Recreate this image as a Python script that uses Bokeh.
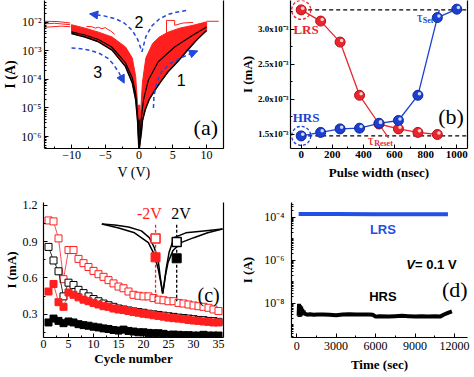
import math
from bokeh.plotting import figure
from bokeh.layouts import column, row
from bokeh.models import (FixedTicker, CustomJSTickFormatter, Label, Range1d,
                          LinearAxis, Arrow, NormalHead)
from bokeh.embed import file_html
from bokeh.resources import INLINE

SERIF = "Liberation Serif"
SANS = "Liberation Sans"
RED = "#ff1f1f"
BLUE_ARROW = "#2448d8"
RED_B = "#e8262e"
BLUE_B = "#1c3fd1"
BLUE_D = "#2150e6"

# ---------------- data: panel (a)  I-V loops (V, log10 I) ----------------
a_pos_up_V = [0.03, 0.2, 0.5, 1.0, 2.0, 3.0, 4.3, 6.0, 8.0, 10.0]
a_pos_up_logI = [-6.42, -5.3, -4.1, -3.25, -2.74, -2.51, -2.34, -2.2, -2.1, -1.98]
a_pos_lo_V = [10.0, 8.6, 7.2, 5.8, 4.3, 3.3, 2.36, 1.5, 0.91, 0.5, 0.34, 0.15, 0.03]
a_pos_lo_logI = [-2.28, -2.6, -2.97, -3.35, -3.73, -4.05, -4.37, -4.7, -5.06, -5.45, -5.86, -6.2, -6.42]
a_neg_up_V = [-10.0, -8.0, -6.0, -4.0, -2.0, -1.0, -0.5, -0.2, -0.03]
a_neg_up_logI = [-2.08, -2.2, -2.34, -2.51, -2.86, -3.25, -3.9, -4.95, -6.42]
a_neg_lo_V = [-0.03, -0.2, -0.5, -1.0, -2.0, -4.0, -6.0, -8.0, -10.0]
a_neg_lo_logI = [-6.42, -5.51, -4.71, -4.12, -3.55, -2.97, -2.68, -2.51, -2.39]
a_blk_neg2_logI = [-6.3, -5.3, -4.5, -3.95, -3.42, -2.87, -2.6, -2.44, -2.33]
a_blk_pos2_V = [0.05, 0.3, 0.66, 1.38, 2.84, 5.26, 7.94, 10.0]
a_blk_pos2_logI = [-6.42, -5.4, -4.71, -4.02, -3.38, -2.86, -2.45, -2.16]
a_spike_V = [-0.1, 0.0, 0.1]
a_spike_logI = [-4.9, -6.42, -4.9]
a_blk_spike_V = [0.0, 0.0]
a_blk_spike_logI = [-5.4, -6.42]
a_red_left_V = [[-14, -12, -10.2], [-14, -12.5, -10.2], [-14, -11.5, -10.2]]
a_red_left_logI = [[-1.96, -1.97, -2.02], [-2.05, -2.03, -2.08], [-2.17, -2.13, -2.15]]
a_red_bump_V = [-7.8, -7, -6.5, -6, -5.5, -5, -4.6, -4.2, -3.6]
a_red_bump_logI = [-2.14, -2.15, -2.2, -2.17, -2.22, -2.18, -2.25, -2.3, -2.42]
a_red_step_V = [4.06, 4.06, 5.27, 5.27, 6.5, 8.0]
a_red_step_logI = [-2.38, -1.93, -1.93, -2.1, -2.02, -2.0]
a_red_right_V = [10.0, 11.8]
a_red_right_logI = [-1.96, -1.96]
arr1_V = [2.13, 2.2, 2.6, 3.3, 4.5, 6.2, 7.6, 8.65]
arr1_logI = [-5.0, -4.6, -4.1, -3.75, -3.45, -3.24, -3.1, -3.0]
arr2_V = [6.96, 5.5, 4.3, 3.0, 1.9, 1.0, 0.43, -0.2, -1.0, -2.2, -3.4, -5.2, -7.3]
arr2_logI = [-1.58, -1.64, -1.72, -1.88, -2.12, -2.5, -3.03, -2.6, -2.28, -2.02, -1.88, -1.77, -1.7]
arr3_V = [-10.0, -8.65, -7.2, -5.84, -4.6, -3.9, -3.0, -2.2]
arr3_logI = [-2.9, -2.92, -2.98, -3.09, -3.26, -3.44, -3.75, -4.13]

# ---------------- data: panel (b) ----------------
b_pulse = [0, 125, 250, 375, 500, 625, 750, 875, 1000]
b_lrs = [3.28, 3.12, 2.82, 2.06, 1.65, 1.58, 1.53, 1.50]
b_hrs = [1.48, 1.53, 1.58, 1.59, 1.66, 1.70, 2.06, 3.17, 3.29]
b_yticks = [1.5, 2.0, 2.5, 3.0]
b_xticks = [0, 200, 400, 600, 800, 1000]

# ---------------- data: panel (c) ----------------
c_cycle = list(range(1, 36))
c_red_open = [1.074, 1.066, 0.926, 0.590, 0.830, 0.830, 0.757, 0.722, 0.690, 0.658,
              0.631, 0.609, 0.582, 0.555, 0.529, 0.515, 0.488, 0.461, 0.453, 0.448,
              0.448, 0.434, 0.421, 0.416, 0.408, 0.408, 0.394, 0.389, 0.381, 0.373,
              0.367, 0.362, 0.354, 0.340, 0.327]
c_blk_open = [0.856, 0.744, 0.655, 0.448, 0.561, 0.542, 0.502, 0.475, 0.448, 0.426,
              0.408, 0.389, 0.375, 0.362, 0.348, 0.340, 0.332, 0.324, 0.319, 0.313,
              0.305, 0.300, 0.295, 0.289, 0.284, 0.279, 0.273, 0.270, 0.265, 0.260,
              0.254, 0.252, 0.246, 0.244, 0.238]
c_red_fill = [0.488, 0.550, 0.400, 0.362, 0.480, 0.461, 0.440, 0.421, 0.408, 0.394,
              0.381, 0.367, 0.362, 0.348, 0.340, 0.335, 0.327, 0.319, 0.313, 0.305,
              0.300, 0.292, 0.287, 0.281, 0.273, 0.268, 0.265, 0.260, 0.254, 0.249,
              0.246, 0.241, 0.238, 0.233, 0.233]
c_blk_fill = [0.233, 0.265, 0.246, 0.227, 0.241, 0.233, 0.219, 0.211, 0.206, 0.198,
              0.192, 0.184, 0.179, 0.171, 0.166, 0.174, 0.163, 0.158, 0.152, 0.152,
              0.147, 0.144, 0.144, 0.139, 0.131, 0.133, 0.131, 0.128, 0.128, 0.125,
              0.125, 0.131, 0.125, 0.125, 0.125]
c_xticks = [0, 5, 10, 15, 20, 25, 30, 35]
c_yticks = [0.3, 0.6, 0.9, 1.2]
# inset schematic (drawn in panel coordinates)
ins_lo_x = [11.67, 14.24, 17.01, 19.58, 21.16, 22.15, 22.94, 23.34, 23.83]
ins_lo_y = [1.045, 1.037, 1.020, 0.988, 0.932, 0.851, 0.746, 0.609, 0.472]
ins_li_x = [11.67, 15.03, 18.20, 20.97, 22.15, 22.94, 23.54, 23.83]
ins_li_y = [1.045, 1.012, 0.972, 0.891, 0.795, 0.674, 0.545, 0.472]
ins_ro_x = [23.83, 24.13, 24.53, 25.12, 26.11, 28.48, 32.04, 35.80]
ins_ro_y = [0.472, 0.545, 0.674, 0.811, 0.932, 0.972, 0.988, 1.004]
ins_ri_x = [23.83, 24.33, 24.92, 25.91, 27.49, 30.06, 32.83, 35.80]
ins_ri_y = [0.472, 0.609, 0.730, 0.827, 0.891, 0.932, 0.972, 1.004]
ins_vx = [22.41, 26.64]          # -2V, 2V read positions
ins_vy = [[1.039, 0.407], [1.039, 0.407]]
ins_open = [0.926, 0.897]
ins_fill = [0.770, 0.762]

# ---------------- data: panel (d) ----------------
d_lrs_t = [150, 3000, 6000, 9000, 11500]
d_lrs_I = [1.42e-4, 1.40e-4, 1.38e-4, 1.38e-4, 1.37e-4]
d_hrs_t = [150, 180, 220, 260, 300, 340, 380, 420, 460, 520, 600, 700, 800, 1000, 1300,
           1600, 2000, 2500, 3000, 3500, 4000, 4500, 5000, 5500, 5800, 6000, 6300, 7000,
           7500, 8000, 8500, 9000, 9500, 10000, 10500, 10900, 11200, 11500, 11800]
d_hrs_I = [2.6e-9, 9.5e-9, 2.3e-9, 8.0e-9, 2.5e-9, 7.0e-9, 2.8e-9, 5.5e-9, 3.0e-9, 4.5e-9,
           3.0e-9, 3.3e-9, 2.9e-9, 3.1e-9, 2.9e-9, 3.0e-9, 3.0e-9, 2.9e-9, 2.8e-9, 3.0e-9,
           3.1e-9, 3.0e-9, 3.0e-9, 3.0e-9, 2.9e-9, 2.4e-9, 2.5e-9, 2.4e-9, 2.5e-9, 2.6e-9,
           2.5e-9, 2.4e-9, 2.5e-9, 2.4e-9, 2.5e-9, 2.4e-9, 3.0e-9, 3.6e-9, 4.2e-9]
d_xticks = [0, 3000, 6000, 9000, 12000]


def L(v):
    return [10 ** x for x in v]


SUP_CODE = """
const e = Math.round(Math.log10(tick));
const m = {'-':'\u207b','0':'\u2070','1':'\u00b9','2':'\u00b2','3':'\u00b3','4':'\u2074',
           '5':'\u2075','6':'\u2076','7':'\u2077','8':'\u2078','9':'\u2079'};
return '10' + String(e).split('').map(c => m[c]).join('');
"""


def style(p, size, bold=False, xstand=3, ystand=3):
    for ax in p.axis:
        ax.major_tick_in = 4
        ax.major_tick_out = 0
        ax.minor_tick_in = 2
        ax.minor_tick_out = 0
        ax.major_label_text_font = SERIF
        ax.major_label_text_font_size = size
        ax.major_label_text_font_style = "bold" if bold else "normal"
        ax.major_label_text_color = "black"
        ax.axis_line_color = "black"
        ax.axis_line_width = 1.2
        ax.major_tick_line_color = "black"
        ax.minor_tick_line_color = "black"
        ax.axis_label_text_font = SERIF
        ax.axis_label_text_color = "black"
    p.xaxis.major_label_standoff = xstand
    p.yaxis.major_label_standoff = ystand
    p.xgrid.grid_line_color = None
    p.ygrid.grid_line_color = None
    p.background_fill_color = "white"
    p.border_fill_color = "white"


def axis_labels(p, xlab, ylab, size, xstyle, ystyle, xs, ys):
    p.xaxis.axis_label = xlab
    p.yaxis.axis_label = ylab
    p.xaxis.axis_label_text_font_size = size
    p.yaxis.axis_label_text_font_size = size
    p.xaxis.axis_label_text_font_style = xstyle
    p.yaxis.axis_label_text_font_style = ystyle
    p.xaxis.axis_label_standoff = xs
    p.yaxis.axis_label_standoff = ys


def right_border(p):
    p.add_layout(LinearAxis(ticker=FixedTicker(ticks=[]), axis_line_color="black",
                            axis_line_width=1.2, major_label_text_font_size="0px"), "right")


class Geo:
    def __init__(self, left, right, top, bottom, xr, yr, ylog=False):
        self.l, self.r, self.t, self.b = left, right, top, bottom
        self.xr, self.yr, self.ylog = xr, yr, ylog

    def x(self, px):
        return self.xr[0] + (px - self.l) * (self.xr[1] - self.xr[0]) / (self.r - self.l)

    def y(self, py):
        lo, hi = self.yr
        if self.ylog:
            lo, hi = math.log10(lo), math.log10(hi)
        v = lo + (self.b - py) * (hi - lo) / (self.b - self.t)
        return 10 ** v if self.ylog else v


def lab(p, g, px, py, text, size, color="black", font=SERIF, style_="normal", align="center"):
    p.add_layout(Label(x=g.x(px), y=g.y(py), text=text, text_font=font,
                       text_font_size=size, text_font_style=style_, text_color=color,
                       text_align=align, text_baseline="middle"))


# ======================= panel (a) =======================
ga = Geo(41, 223, 0, 149, (-14, 12.5), (10 ** -6.42, 10 ** -1.231), True)
pa = figure(width=237, height=188, x_range=Range1d(*ga.xr), y_range=Range1d(*ga.yr),
            y_axis_type="log", output_backend="svg", toolbar_location=None,
            min_border_left=41, min_border_right=14, min_border_top=0, min_border_bottom=39)
pa.outline_line_color = None
pa.xaxis.ticker = FixedTicker(ticks=[-10, -5, 0, 5, 10], minor_ticks=[-12.5, -7.5, -2.5, 2.5, 7.5, 12.5])
pa.yaxis.ticker = FixedTicker(ticks=[1e-6, 1e-5, 1e-4, 1e-3, 1e-2],
                              minor_ticks=[k * 10 ** e for e in range(-7, -1) for k in range(2, 10)])
pa.yaxis.formatter = CustomJSTickFormatter(code=SUP_CODE)
style(pa, "12px", xstand=2, ystand=3)
axis_labels(pa, "V (V)", "I (A)", "14px", "normal", "bold", 3, 0)
right_border(pa)

pa.patch(a_pos_up_V + a_pos_lo_V, L(a_pos_up_logI + a_pos_lo_logI), fill_color=RED, line_color=RED, line_width=1)
pa.patch(a_neg_up_V + a_neg_lo_V, L(a_neg_up_logI + a_neg_lo_logI), fill_color=RED, line_color=RED, line_width=1)
pa.patch(a_spike_V, L(a_spike_logI), fill_color=RED, line_color=RED)
for xs, ys in zip(a_red_left_V, a_red_left_logI):
    pa.line(xs, L(ys), line_color=RED, line_width=1)
pa.line(a_red_bump_V, L(a_red_bump_logI), line_color=RED, line_width=1)
pa.line(a_red_step_V, L(a_red_step_logI), line_color=RED, line_width=1)
pa.line(a_red_right_V, L(a_red_right_logI), line_color=RED, line_width=1)
pa.line(a_neg_lo_V, L(a_neg_lo_logI), line_color="black", line_width=1.5)
pa.line(a_neg_lo_V, L(a_blk_neg2_logI), line_color="black", line_width=1.2)
pa.line(a_pos_lo_V, L(a_pos_lo_logI), line_color="black", line_width=1.5)
pa.line(a_blk_pos2_V, L(a_blk_pos2_logI), line_color="black", line_width=1.2)
pa.line(a_blk_spike_V, L(a_blk_spike_logI), line_color="black", line_width=1.5)

for xs, ys in [(arr1_V, arr1_logI), (arr2_V, arr2_logI), (arr3_V, arr3_logI)]:
    pa.line(xs, L(ys), line_color=BLUE_ARROW, line_width=1.5, line_dash="4 3")
    pa.add_layout(Arrow(end=NormalHead(size=8, fill_color=BLUE_ARROW, line_color=BLUE_ARROW),
                        x_start=xs[-2], y_start=10 ** ys[-2], x_end=xs[-1], y_end=10 ** ys[-1],
                        line_alpha=0))

lab(pa, ga, 180, 80, "1", "16px", font=SANS)
lab(pa, ga, 137, 22, "2", "16px", font=SANS)
lab(pa, ga, 95, 72, "3", "16px", font=SANS)
lab(pa, ga, 205, 128, "(a)", "22px")

# ======================= panel (b) =======================
gb = Geo(285, 467, 0, 148, (-68.75, 1068.75), (1.30, 3.414))
pb = figure(width=237, height=188, x_range=Range1d(*gb.xr), y_range=Range1d(*gb.yr),
            output_backend="svg", toolbar_location=None,
            min_border_left=48, min_border_right=7, min_border_top=0, min_border_bottom=40)
pb.outline_line_color = None
pb.xaxis.ticker = FixedTicker(ticks=b_xticks, minor_ticks=[100, 300, 500, 700, 900])
pb.yaxis.ticker = FixedTicker(ticks=b_yticks, minor_ticks=[1.75, 2.25, 2.75, 3.25])
pb.yaxis.formatter = CustomJSTickFormatter(code="return tick.toFixed(1) + 'x10\u207b\u00b3';")
style(pb, "11px", bold=True, xstand=2, ystand=2)
pb.yaxis.major_label_text_font_size = "9px"
axis_labels(pb, "Pulse width (nsec)", "I (mA)", "13px", "bold", "bold", 4, 0)
right_border(pb)

# reference dashed levels
pb.line([b_pulse[0], gb.xr[1]], [b_lrs[0], b_lrs[0]], line_color="black", line_width=1.3, line_dash="4 3")
pb.line([b_pulse[0], gb.xr[1]], [b_hrs[0], b_hrs[0]], line_color="black", line_width=1.3, line_dash="4 3")
# tau construction lines: extend neighbouring segments
s_r = (b_lrs[4] - b_lrs[3]) / (b_pulse[4] - b_pulse[3])
x_r = b_pulse[4] + (b_hrs[0] - 0.03 - b_lrs[4]) / s_r
pb.line([b_pulse[4], x_r], [b_lrs[4], b_hrs[0] - 0.03], line_color=RED_B, line_width=1.3)
s_s = (b_hrs[7] - b_hrs[6]) / (b_pulse[7] - b_pulse[6])
x_s = b_pulse[7] + (b_lrs[0] - b_hrs[7]) / s_s
pb.line([b_pulse[7], x_s], [b_hrs[7], b_lrs[0]], line_color=BLUE_B, line_width=1.3)

pb.line(b_pulse[:len(b_lrs)], b_lrs, line_color=RED_B, line_width=1.3)
pb.line(b_pulse, b_hrs, line_color=BLUE_B, line_width=1.3)
pb.scatter(b_pulse[:len(b_lrs)], b_lrs, size=10, fill_color=RED_B, line_color="#b81018")
pb.scatter(b_pulse, b_hrs, size=10, fill_color=BLUE_B, line_color="#0c2a9c")
dx, dy = 1.6 * (gb.xr[1] - gb.xr[0]) / 182, 1.6 * (gb.yr[1] - gb.yr[0]) / 148
pb.scatter([x + dx for x in b_pulse[:len(b_lrs)]], [y + dy for y in b_lrs], size=3.5,
           fill_color="#ffd0d0", line_color=None)
pb.scatter([x + dx for x in b_pulse], [y + dy for y in b_hrs], size=3.5,
           fill_color="#d0dcff", line_color=None)
pb.scatter([b_pulse[0]], [b_lrs[0]], size=19, fill_color=None, line_color=RED_B, line_width=1.3, line_dash="3 2")
pb.scatter([b_pulse[0]], [b_hrs[0]], size=19, fill_color=None, line_color=BLUE_B, line_width=1.3, line_dash="3 2")

lab(pb, gb, 301, 29, "LRS", "13px", color=RED_B, style_="bold")
lab(pb, gb, 301, 117, "HRS", "13px", color=BLUE_B, style_="bold")
lab(pb, gb, 418, 16, "\u03c4", "15px", color=BLUE_B)
lab(pb, gb, 421, 20, "Set", "8px", color=BLUE_B, style_="bold", align="left")
lab(pb, gb, 367.5, 139, "\u03c4", "15px", color=RED_B)
lab(pb, gb, 371, 143, "Reset", "8px", color=RED_B, style_="bold", align="left")
lab(pb, gb, 450, 116, "(b)", "22px")

# ======================= panel (c) =======================
gc = Geo(41, 223, 199, 337, (0, 36), (0.109, 1.222))
pc = figure(width=237, height=189, x_range=Range1d(*gc.xr), y_range=Range1d(*gc.yr),
            output_backend="svg", toolbar_location=None,
            min_border_left=41, min_border_right=14, min_border_top=11, min_border_bottom=40)
pc.outline_line_color = None
pc.xaxis.ticker = FixedTicker(ticks=c_xticks, minor_ticks=[2.5 + 5 * k for k in range(7)])
pc.yaxis.ticker = FixedTicker(ticks=c_yticks, minor_ticks=[0.15, 0.45, 0.75, 1.05])
pc.yaxis.formatter = CustomJSTickFormatter(code="return tick.toFixed(1);")
style(pc, "12px", xstand=2, ystand=6)
axis_labels(pc, "Cycle number", "I (mA)", "13px", "bold", "bold", 0, 1)
right_border(pc)

pc.line(c_cycle, c_red_open, line_color=RED, line_width=0.8)
pc.scatter(c_cycle, c_red_open, marker="square", size=7, fill_color="white", line_color=RED, line_width=1)
pc.line(c_cycle, c_blk_open, line_color="black", line_width=0.8)
pc.scatter(c_cycle, c_blk_open, marker="square", size=7, fill_color="white", line_color="black", line_width=1)
pc.line(c_cycle, c_red_fill, line_color=RED, line_width=0.8)
pc.scatter(c_cycle, c_red_fill, marker="square", size=7, fill_color=RED, line_color=RED)
pc.line(c_cycle, c_blk_fill, line_color="black", line_width=0.8)
pc.scatter(c_cycle, c_blk_fill, marker="square", size=7, fill_color="black", line_color="black")

for xs, ys in [(ins_lo_x, ins_lo_y), (ins_li_x, ins_li_y), (ins_ro_x, ins_ro_y), (ins_ri_x, ins_ri_y)]:
    pc.line(xs, ys, line_color="black", line_width=1.5)
pc.line([ins_vx[0], ins_vx[0]], ins_vy[0], line_color=RED, line_width=1.3, line_dash="3 2")
pc.line([ins_vx[1], ins_vx[1]], ins_vy[1], line_color="black", line_width=1.3, line_dash="3 2")
pc.scatter([ins_vx[0]], [ins_open[0]], marker="square", size=9, fill_color="white", line_color=RED, line_width=1.5)
pc.scatter([ins_vx[0]], [ins_fill[0]], marker="square", size=9, fill_color=RED, line_color=RED)
pc.scatter([ins_vx[1]], [ins_open[1]], marker="square", size=9, fill_color="white", line_color="black", line_width=1.5)
pc.scatter([ins_vx[1]], [ins_fill[1]], marker="square", size=9, fill_color="black", line_color="black")
lab(pc, gc, 148, 210, "-2V", "16px", color=RED)
lab(pc, gc, 180, 210, "2V", "16px")
lab(pc, gc, 208, 294, "(c)", "20px")

# ======================= panel (d) =======================
gd = Geo(286, 467, 202, 340, (-392, 12986), (10 ** -9.59, 10 ** -3.318), True)
pd_ = figure(width=237, height=189, x_range=Range1d(*gd.xr), y_range=Range1d(*gd.yr),
             y_axis_type="log", output_backend="svg", toolbar_location=None,
             min_border_left=49, min_border_right=7, min_border_top=14, min_border_bottom=37)
pd_.outline_line_color = None
pd_.xaxis.ticker = FixedTicker(ticks=d_xticks, minor_ticks=[1500 + 3000 * k for k in range(4)])
pd_.yaxis.ticker = FixedTicker(ticks=[1e-8, 1e-6, 1e-4],
                               minor_ticks=[k * 10 ** e for e in range(-10, -3) for k in range(1, 10)])
pd_.yaxis.formatter = CustomJSTickFormatter(code=SUP_CODE)
style(pd_, "12px", xstand=4, ystand=7)
axis_labels(pd_, "Time (sec)", "I (A)", "13px", "bold", "bold", 4, 6)

pd_.line(d_lrs_t, d_lrs_I, line_color=BLUE_D, line_width=4)
pd_.line(d_hrs_t, d_hrs_I, line_color="black", line_width=4)
lab(pd_, gd, 380, 230, "LRS", "13px", color=BLUE_D, font=SANS, style_="bold")
lab(pd_, gd, 380, 298, "HRS", "13px", font=SANS, style_="bold")
lab(pd_, gd, 404, 265, "V", "13px", font=SANS, style_="bold italic", align="left")
lab(pd_, gd, 413, 265, "= 0.1 V", "13px", font=SANS, style_="bold", align="left")
lab(pd_, gd, 454, 291, "(d)", "22px")

layout = column(row(pa, pb), row(pc, pd_))
open("out.html", "w").write(file_html(layout, INLINE))
